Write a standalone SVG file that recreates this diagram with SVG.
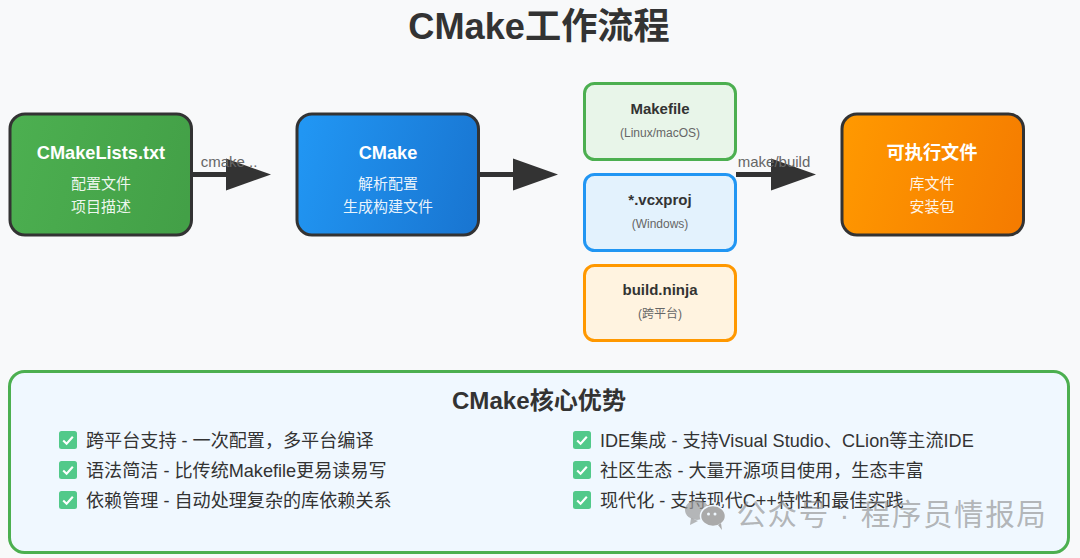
<svg xmlns="http://www.w3.org/2000/svg" width="1080" height="558" viewBox="0 0 1080 558">
<style>
text{font-family:"Liberation Sans","Noto Sans CJK SC",sans-serif;text-anchor:middle}
.nt{font-size:18.2px;font-weight:700;fill:#fff}
.ns{font-size:15px;fill:#fff;fill-opacity:.92}
.main{stroke:#333;stroke-width:3}
.st{font-size:15px;font-weight:700;fill:#333}
.ss{font-size:12px;fill:#666}
.lb{font-size:15px;fill:#666}
.it{font-size:18.1px;fill:#333;text-anchor:start}
.ln{stroke:#333;stroke-width:5;fill:none}
.ah{fill:#333}
.wm{font-size:29.5px;fill:#8a8a8a;fill-opacity:.62;text-anchor:start;letter-spacing:1.6px}
</style>
<defs>
<linearGradient id="gg" gradientUnits="userSpaceOnUse" x1="10" y1="150" x2="191" y2="200"><stop offset="0" stop-color="#4caf50"/><stop offset="1" stop-color="#43a047"/></linearGradient>
<linearGradient id="gb" gradientUnits="userSpaceOnUse" x1="297" y1="150" x2="478" y2="200"><stop offset="0" stop-color="#2196f3"/><stop offset="1" stop-color="#1976d2"/></linearGradient>
<linearGradient id="go" gradientUnits="userSpaceOnUse" x1="842" y1="150" x2="1023" y2="200"><stop offset="0" stop-color="#ff9800"/><stop offset="1" stop-color="#f57c00"/></linearGradient>
<g id="chk"><rect width="18" height="18" rx="2.5" fill="#52c98a"/><path d="M4.200 9.400l3.400 3.300 6.200-7" fill="none" stroke="#fff" stroke-width="2.100"/></g>
</defs>
<rect width="1080" height="558" fill="#f8f9fa"/>
<text x="539" y="39" font-size="36.2" font-weight="700" fill="#333">CMake工作流程</text>
<g id="connectors">
<path class="ln" d="M192 174.500H230"/><polygon class="ah" points="226,158.500 271,174.500 226,190.500"/>
<text class="lb" x="229" y="167">cmake ..</text>
<path class="ln" d="M479 174.500H518"/><polygon class="ah" points="513,158.500 558,174.500 513,190.500"/>
<path class="ln" d="M736 174.500H775"/><polygon class="ah" points="771,158.500 816,174.500 771,190.500"/>
<text class="lb" x="774" y="167">make/build</text>
</g>
<g id="n-cmakelists"><rect class="main" x="10" y="114" width="181.500" height="121" rx="15" fill="url(#gg)"/>
<text class="nt" x="101" y="159">CMakeLists.txt</text><text class="ns" x="101" y="189">配置文件</text><text class="ns" x="101" y="212">项目描述</text></g>
<g id="n-cmake"><rect class="main" x="297" y="114" width="181.500" height="121" rx="15" fill="url(#gb)"/>
<text class="nt" x="388" y="159">CMake</text><text class="ns" x="388" y="189">解析配置</text><text class="ns" x="388" y="212">生成构建文件</text></g>
<g id="n-makefile"><rect x="584.500" y="83.500" width="151" height="76" rx="10" fill="#e8f5e9" stroke="#4caf50" stroke-width="3"/>
<text class="st" x="660" y="114">Makefile</text><text class="ss" x="660" y="137">(Linux/macOS)</text></g>
<g id="n-vcxproj"><rect x="584.500" y="174.500" width="151" height="76" rx="10" fill="#e3f2fd" stroke="#2196f3" stroke-width="3"/>
<text class="st" x="660" y="205">*.vcxproj</text><text class="ss" x="660" y="228">(Windows)</text></g>
<g id="n-ninja"><rect x="584.500" y="265.500" width="151" height="75" rx="10" fill="#fff3e0" stroke="#ff9800" stroke-width="3"/>
<text class="st" x="660" y="295">build.ninja</text><text class="ss" x="660" y="318">(跨平台)</text></g>
<g id="n-exe"><rect class="main" x="842" y="114" width="181.500" height="121" rx="15" fill="url(#go)"/>
<text class="nt" x="932" y="159">可执行文件</text><text class="ns" x="932" y="189">库文件</text><text class="ns" x="932" y="212">安装包</text></g>
<g id="advantages"><rect x="9.500" y="371.500" width="1059" height="181" rx="15" fill="#f0f8ff" stroke="#4caf50" stroke-width="3"/>
<text x="539" y="409" font-size="24.1" font-weight="700" fill="#333">CMake核心优势</text>
<use href="#chk" x="59" y="431"/><text class="it" x="86" y="446.500">跨平台支持 - 一次配置，多平台编译</text>
<use href="#chk" x="59" y="461"/><text class="it" x="86" y="476.500">语法简洁 - 比传统Makefile更易读易写</text>
<use href="#chk" x="59" y="491"/><text class="it" x="86" y="506.500">依赖管理 - 自动处理复杂的库依赖关系</text>
<use href="#chk" x="573" y="431"/><text class="it" x="600" y="446.500">IDE集成 - 支持Visual Studio、CLion等主流IDE</text>
<use href="#chk" x="573" y="461"/><text class="it" x="600" y="476.500">社区生态 - 大量开源项目使用，生态丰富</text>
<use href="#chk" x="573" y="491"/><text class="it" x="600" y="506.500">现代化 - 支持现代C++特性和最佳实践</text>
</g>
<g id="watermark">
<ellipse cx="697" cy="510" rx="12" ry="10" fill="#9a9a9a" fill-opacity=".7"/><path d="M691 518l-1 7 8-4z" fill="#9a9a9a" fill-opacity=".7"/>
<ellipse cx="713" cy="516" rx="12.500" ry="10.500" fill="#aaa" stroke="#f0f8ff" stroke-width="1.500"/><path d="M718 525l4 5-1-7z" fill="#aaa"/>
<circle cx="708.500" cy="514" r="1.500" fill="#f0f8ff"/><circle cx="715" cy="514" r="1.500" fill="#f0f8ff"/>
<text class="wm" x="736.500" y="525">公众号 · 程序员情报局</text>
</g>
</svg>
